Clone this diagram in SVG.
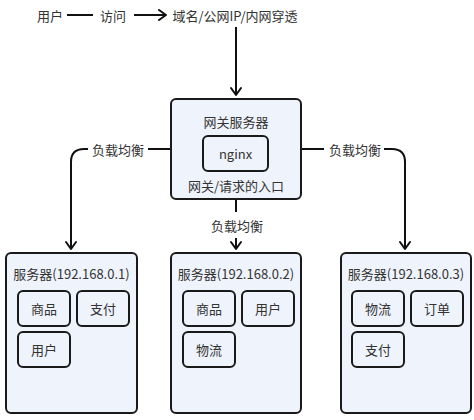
<svg xmlns="http://www.w3.org/2000/svg" width="474" height="420" viewBox="0 0 474 420">
<defs>
<style>
text{font-family:"Noto Sans CJK SC","Noto Sans",sans-serif;font-size:13px;fill:#333;text-anchor:middle;dominant-baseline:central}
.box{fill:#eff3fb;stroke:#1a1a1a;stroke-width:2}
.line{fill:none;stroke:#111;stroke-width:2}
.bg{fill:#fff}
</style>
<marker id="ah" viewBox="0 0 12 12" refX="10" refY="6" markerWidth="12" markerHeight="12" markerUnits="userSpaceOnUse" orient="auto">
<path d="M3 1 L10 6 L3 11" fill="none" stroke="#111" stroke-width="2" stroke-linecap="round" stroke-linejoin="round"/>
</marker>
</defs>
<rect width="474" height="420" fill="#fff"/>
<g id="connectors">
<path class="line" d="M67 15 H93"/>
<path class="line" d="M134 15 H166" marker-end="url(#ah)"/>
<path class="line" d="M236 27 V95" marker-end="url(#ah)"/>
<path class="line" d="M171 149 H84 Q71 149 71 162 V249" marker-end="url(#ah)"/>
<path class="line" d="M301 149 H392 Q405 149 405 162 V249" marker-end="url(#ah)"/>
<path class="line" d="M236 199 V249" marker-end="url(#ah)"/>
<rect class="bg" x="88" y="140" width="60" height="18"/>
<text x="118" y="149">负载均衡</text>
<rect class="bg" x="324" y="140" width="60" height="18"/>
<text x="355" y="149">负载均衡</text>
<rect class="bg" x="206" y="212" width="60" height="26"/>
<text x="237" y="225">负载均衡</text>
<text x="113" y="15">访问</text>
</g>
<g id="user"><text x="50" y="15">用户</text></g>
<g id="domain"><text x="235" y="15">域名/公网IP/内网穿透</text></g>
<g id="gateway">
<rect class="box" x="171" y="99" width="130" height="100" rx="5"/>
<text x="236" y="121">网关服务器</text>
<rect class="box" x="203" y="136" width="65" height="35" rx="5"/>
<text x="235.5" y="153">nginx</text>
<text x="236" y="185">网关/请求的入口</text>
</g>
<g id="server1">
<rect class="box" x="6" y="253" width="131" height="160" rx="5"/>
<text x="71.5" y="273">服务器(192.168.0.1)</text>
<rect class="box" x="18" y="291" width="52" height="35" rx="5"/><text x="44" y="308">商品</text>
<rect class="box" x="77" y="291" width="52" height="35" rx="5"/><text x="103" y="308">支付</text>
<rect class="box" x="18" y="332" width="52" height="35" rx="5"/><text x="44" y="349">用户</text>
</g>
<g id="server2">
<rect class="box" x="171" y="253" width="130" height="160" rx="5"/>
<text x="236" y="273">服务器(192.168.0.2)</text>
<rect class="box" x="183" y="291" width="52" height="35" rx="5"/><text x="209" y="308">商品</text>
<rect class="box" x="242" y="291" width="52" height="35" rx="5"/><text x="268" y="308">用户</text>
<rect class="box" x="183" y="332" width="52" height="35" rx="5"/><text x="209" y="349">物流</text>
</g>
<g id="server3">
<rect class="box" x="341" y="253" width="130" height="160" rx="5"/>
<text x="406" y="273">服务器(192.168.0.3)</text>
<rect class="box" x="352" y="291" width="52" height="35" rx="5"/><text x="378" y="308">物流</text>
<rect class="box" x="411" y="291" width="52" height="35" rx="5"/><text x="437" y="308">订单</text>
<rect class="box" x="352" y="332" width="52" height="35" rx="5"/><text x="378" y="349">支付</text>
</g>
</svg>
